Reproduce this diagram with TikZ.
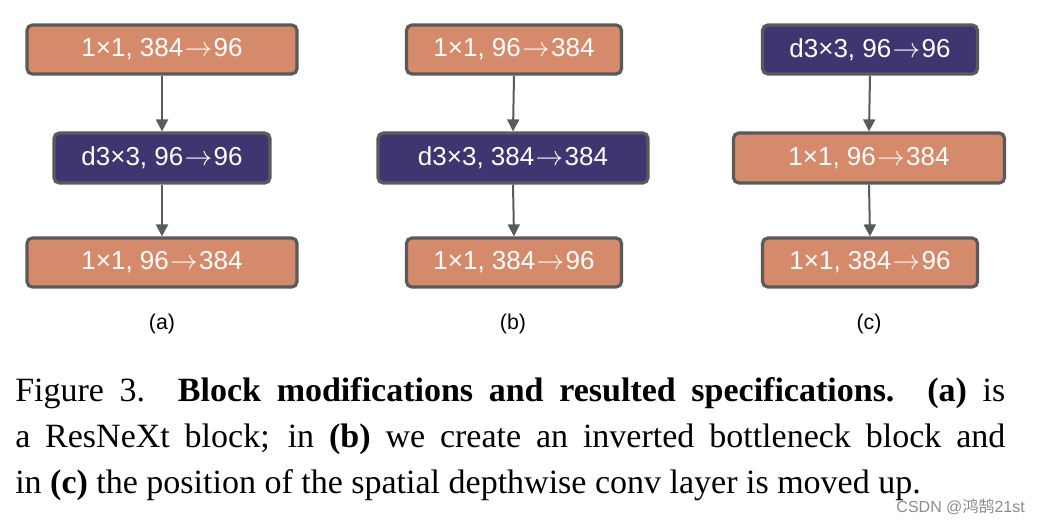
\documentclass[tikz,border=0pt]{standalone}
\usetikzlibrary{arrows.meta}
\usepackage{fontspec}
\setmainfont{Liberation Serif}
\newfontfamily\sans{Liberation Sans}
\newfontfamily\cjk{Noto Sans CJK SC}
\newcommand{\ar}{\kern1pt$\rightarrow$\kern1pt}
\definecolor{org}{HTML}{D68A6C}
\definecolor{pur}{HTML}{3F3570}
\definecolor{brd}{HTML}{5A5A5A}
\begin{document}
\begin{tikzpicture}[x=0.75pt,y=-0.75pt,
  blk/.style={draw=brd,line width=2.4pt,rounded corners=4pt,text=white,font=\sans\fontsize{19.5}{20}\selectfont,inner sep=0pt},
  o/.style={blk,fill=org},
  p/.style={blk,fill=pur},
  arr/.style={draw=brd,line width=1.5pt,-{Triangle[length=9pt,width=9pt]}},
  lab/.style={font=\sans\fontsize{16}{18}\selectfont}]
\useasboundingbox (0,0) rectangle (1039,525);
% (a)
\node[o,minimum width=270*0.75pt,minimum height=49*0.75pt] (a1) at (162,49.5) {1×1, 384\ar96};
\node[p,minimum width=216*0.75pt,minimum height=50*0.75pt] (a2) at (162,158) {d3×3, 96\ar96};
\node[o,minimum width=270*0.75pt,minimum height=49*0.75pt] (a3) at (162,262.5) {1×1, 96\ar384};
% (b)
\node[o,minimum width=215*0.75pt,minimum height=49*0.75pt] (b1) at (514,49.5) {1×1, 96\ar384};
\node[p,minimum width=270*0.75pt,minimum height=50*0.75pt] (b2) at (513,158) {d3×3, 384\ar384};
\node[o,minimum width=215*0.75pt,minimum height=49*0.75pt] (b3) at (514,262.5) {1×1, 384\ar96};
% (c)
\node[p,minimum width=215*0.75pt,minimum height=49*0.75pt] (c1) at (870,49.5) {d3×3, 96\ar96};
\node[o,minimum width=271*0.75pt,minimum height=50*0.75pt] (c2) at (869,158) {1×1, 96\ar384};
\node[o,minimum width=215*0.75pt,minimum height=49*0.75pt] (c3) at (870,262.5) {1×1, 384\ar96};
\foreach \n in {a,b,c}{
  \draw[arr] (\n1.south) -- (\n2.north);
  \draw[arr] (\n2.south) -- (\n3.north);}
\node[lab] (la) at (162,324) {(a)};
\node[lab] (lb) at (513,324) {(b)};
\node[lab] (lc) at (869,324) {(c)};
\node[anchor=north west,inner sep=0pt,text width=990*0.75pt,align=justify,font=\fontsize{25.5}{34.5}\selectfont] (cap) at (15,377)
{Figure 3. \textbf{Block modifications and resulted specifications.} \textbf{(a)} is\linebreak a ResNeXt block; in \textbf{(b)} we create an inverted bottleneck block and\linebreak in \textbf{(c)} the position of the spatial depthwise conv layer is moved up.};
\node[anchor=east,inner sep=0pt,text=black!45,font=\sans\fontsize{12}{14}\selectfont] (wm) at (1025,507) {CSDN @{\cjk 鸿鹄}21st};
\end{tikzpicture}
\end{document}
